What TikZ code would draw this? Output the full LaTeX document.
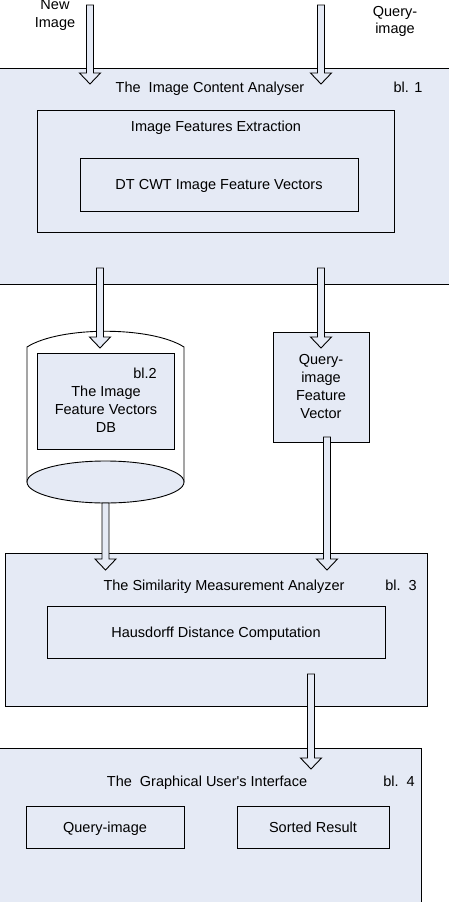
\documentclass[tikz,border=0pt]{standalone}
\usepackage{fontspec}
\setmainfont{Liberation Sans}
\definecolor{pale}{RGB}{229,234,245}
\tikzset{
  panel/.style={draw=black, fill=pale, line width=0.9pt},
  box/.style={draw=black, fill=pale, line width=0.9pt, inner sep=0pt, align=center,
    font=\fontsize{14.5}{18}\selectfont},
  lbl/.style={inner sep=0pt, align=center, font=\fontsize{14.5}{17.5}\selectfont},
  arr/.style={draw=black, fill=pale, line width=0.9pt, line join=miter},
  oneline/.style={text height=12pt, text depth=2pt},
}
% block arrow: x centre, y start, y tip
\newcommand{\blkarrow}[3]{%
  \draw[arr] (#1-3.5,#2) -- (#1+3.5,#2) -- (#1+3.5,#3-11) -- (#1+10.5,#3-11)
    -- (#1,#3) -- (#1-10.5,#3-11) -- (#1-3.5,#3-11) -- cycle;}
\begin{document}
\begin{tikzpicture}[x=1pt,y=-1pt]
\useasboundingbox (0,0) rectangle (448,902);
\fill[white] (0,0) rectangle (448,902);

% ---- block 1
\path[panel] (-3,68) rectangle (451,284);
\node[lbl, oneline] (t1) at (210,87) {The\ \ Image Content Analyser};
\node[lbl, oneline] (b1) at (408,87) {bl. 1};
\node[box, minimum width=357, minimum height=122] (ife) at (215.5,171) {};
\node[lbl, oneline] (ifet) at (216,126) {Image Features Extraction};
\node[box, oneline, minimum width=278, minimum height=53] (dt) at (219,184.5) {DT CWT Image Feature Vectors};

% ---- inputs
\node[lbl] (newimg) at (55,15) {New\\Image};
\node[lbl] (qimg) at (395,21.5) {Query-\\image};
\blkarrow{90}{5}{84}
\blkarrow{321}{5}{84}

% ---- database cylinder (bl.2)
\path[draw=black, fill=white, line width=0.9pt]
  (27,347) .. controls (60,326) and (151,326) .. (184,347) -- (184,482) -- (27,482) -- cycle;
\path[draw=black, fill=pale, line width=0.9pt] (105.5,482) ellipse [x radius=78.5, y radius=21];
\node[box, minimum width=137, minimum height=96] (db) at (105.5,401) {};
\node[lbl] (b2) at (145,373) {bl.2};
\node[lbl, font=\fontsize{14.5}{18}\selectfont] (dbt) at (106,409.5) {The Image\\Feature Vectors\\DB};

% ---- query feature vector
\node[box, minimum width=96, minimum height=110] (qfv) at (321,387) {Query-\\image\\Feature\\Vector};

\blkarrow{100}{268}{348}
\blkarrow{321}{268}{348}

% ---- block 3
\path[panel] (5,553) rectangle (427,706);
\node[lbl, oneline] (t3) at (224,585) {The Similarity Measurement Analyzer};
\node[lbl, oneline] (b3) at (401,585) {bl.\ \ 3};
\node[box, oneline, minimum width=338, minimum height=52] (hd) at (216,632) {Hausdorff Distance Computation};

\blkarrow{105.5}{503}{570}
\blkarrow{327}{437}{570}

% ---- block 4
\path[panel] (-3,748) rectangle (421,905);
\node[lbl, oneline] (t4) at (207,781) {The\ \ Graphical User\textquotesingle s Interface};
\node[lbl, oneline] (b4) at (399,781) {bl.\ \ 4};
\node[box, oneline, minimum width=158, minimum height=42] (qi) at (105,827) {Query-image};
\node[box, oneline, minimum width=152, minimum height=42] (sr) at (313,827) {Sorted Result};

\blkarrow{311}{674}{769}
\end{tikzpicture}
\end{document}
